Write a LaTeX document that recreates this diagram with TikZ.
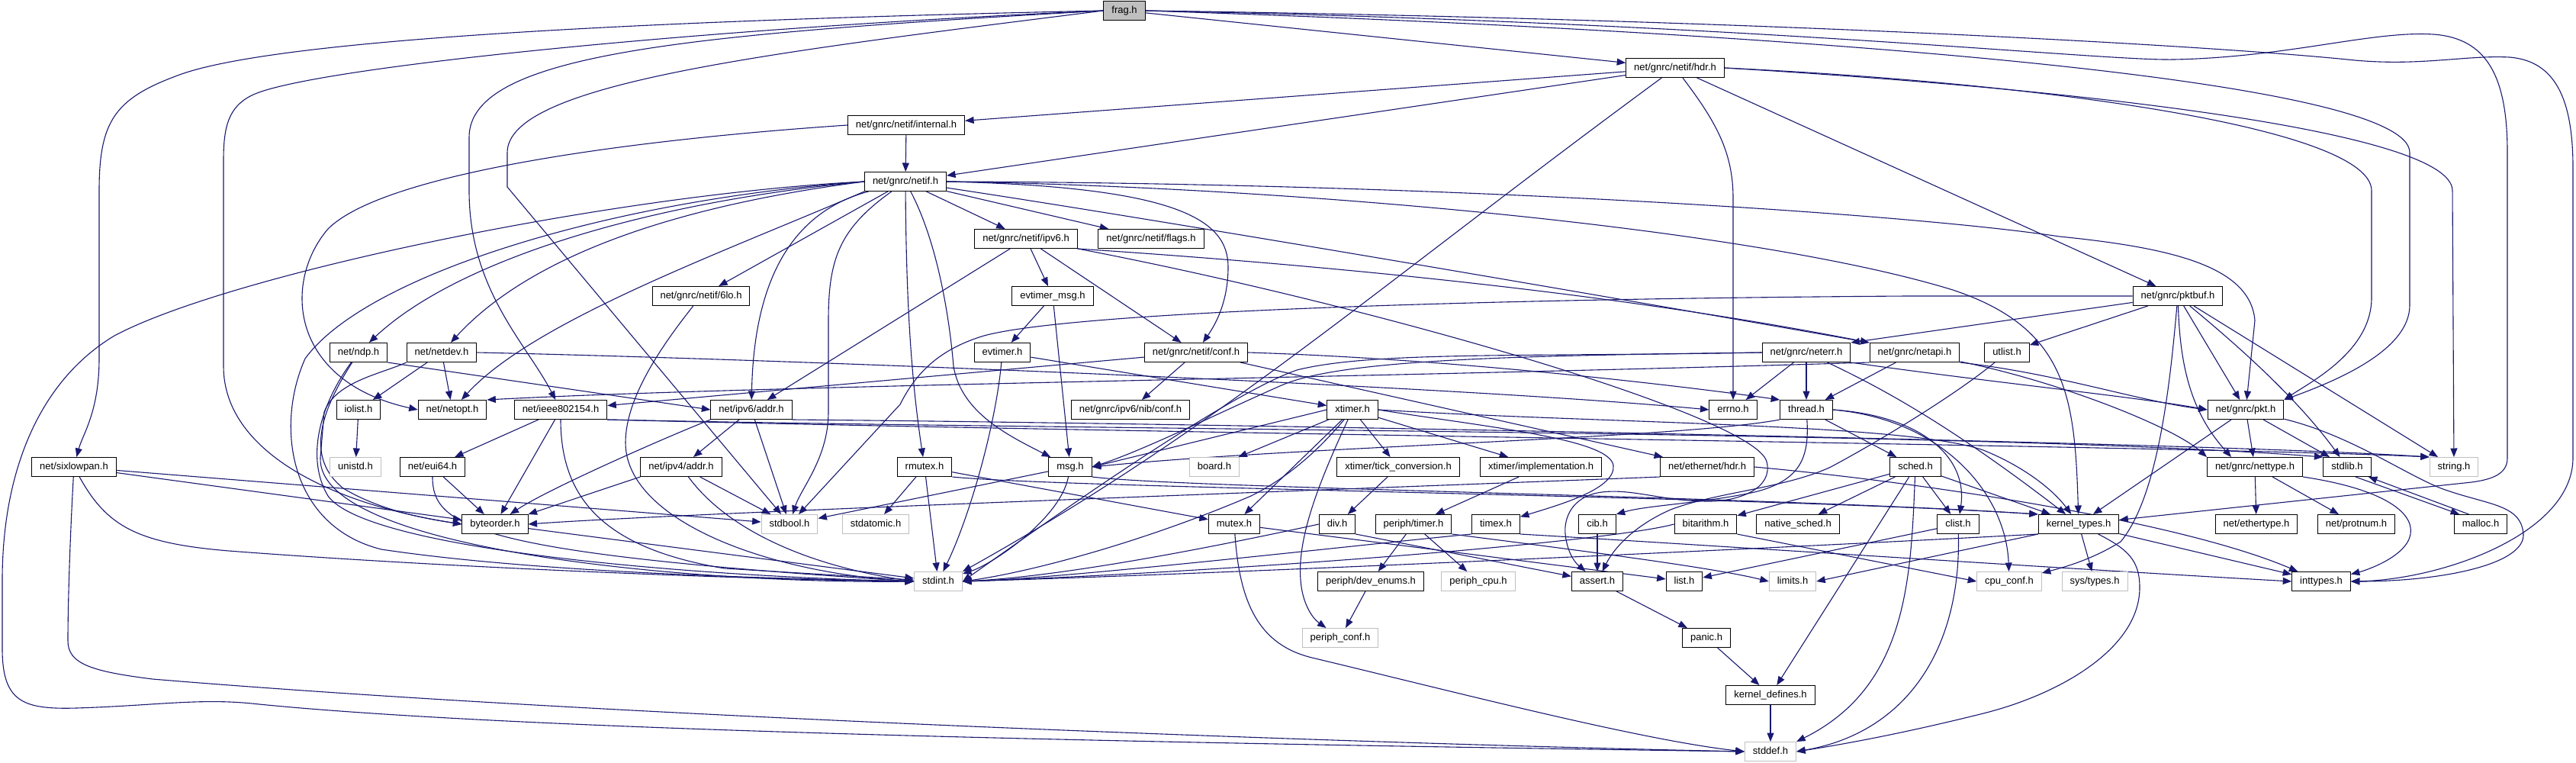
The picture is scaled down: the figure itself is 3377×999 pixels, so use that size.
\documentclass[tikz,border=0pt]{standalone}
\usepackage{fontspec}
\setmainfont{Liberation Sans}
\usetikzlibrary{arrows.meta,backgrounds}
\definecolor{edgeblue}{RGB}{25,25,112}
\definecolor{boxgray}{RGB}{191,191,191}

\begin{document}
\begin{tikzpicture}[x=1pt,y=-1pt,font=\fontsize{13}{15}\selectfont,
every node/.style={draw=black,line width=1pt,fill=white,inner xsep=10.5pt,inner ysep=0pt,
  minimum height=25pt,text height=9.5pt,text depth=2.5pt},
sysfile/.style={draw=boxgray},
root/.style={fill=boxgray},
inc/.style={draw=edgeblue,line width=1.1pt,-{Triangle[length=11.5pt,width=9pt]}}]
\useasboundingbox (0,0) rectangle (3377,999);

\node[root] (frag) at (1474,14) {frag.h};
\node (hdr) at (2196,89) {net/gnrc/netif/hdr.h};
\node (internal) at (1188,164) {net/gnrc/netif/internal.h};
\node (netif) at (1187,238) {net/gnrc/netif.h};
\node (ipvsix) at (1345,313) {net/gnrc/netif/ipv6.h};
\node (flags) at (1509,313) {net/gnrc/netif/flags.h};
\node (sixlo) at (919,388) {net/gnrc/netif/6lo.h};
\node (evmsg) at (1380,388) {evtimer\_msg.h};
\node (pktbuf) at (2855,388) {net/gnrc/pktbuf.h};
\node (ndp) at (470,462) {net/ndp.h};
\node (netdev) at (579,462) {net/netdev.h};
\node (evtimer) at (1314,462) {evtimer.h};
\node (netifconf) at (1568,462) {net/gnrc/netif/conf.h};
\node (neterr) at (2368,462) {net/gnrc/neterr.h};
\node (netapi) at (2510,462) {net/gnrc/netapi.h};
\node (utlist) at (2631,462) {utlist.h};
\node (iolist) at (470,537) {iolist.h};
\node (netopt) at (593,537) {net/netopt.h};
\node (ieee) at (735,537) {net/ieee802154.h};
\node (ipv6addr) at (985,537) {net/ipv6/addr.h};
\node (nibconf) at (1482,537) {net/gnrc/ipv6/nib/conf.h};
\node (xtimer) at (1773,537) {xtimer.h};
\node (errno) at (2272,537) {errno.h};
\node (thread) at (2368,537) {thread.h};
\node (pkt) at (2944,537) {net/gnrc/pkt.h};
\node (sixlowpan) at (97,612) {net/sixlowpan.h};
\node[sysfile] (unistd) at (466,612) {unistd.h};
\node (eui64) at (567,612) {net/eui64.h};
\node (ipv4addr) at (893,612) {net/ipv4/addr.h};
\node (rmutex) at (1212,612) {rmutex.h};
\node (msg) at (1403,612) {msg.h};
\node[sysfile] (board) at (1592,612) {board.h};
\node (tickconv) at (1833,612) {xtimer/tick\_conversion.h};
\node (impl) at (2020,612) {xtimer/implementation.h};
\node (ethhdr) at (2238,612) {net/ethernet/hdr.h};
\node (sched) at (2511,612) {sched.h};
\node (nettype) at (2956,612) {net/gnrc/nettype.h};
\node (stdlib) at (3077,612) {stdlib.h};
\node[sysfile] (string) at (3217,612) {string.h};
\node (byteorder) at (649,687) {byteorder.h};
\node[sysfile] (stdbool) at (1035,687) {stdbool.h};
\node[sysfile] (stdatomic) at (1148,687) {stdatomic.h};
\node (mutex) at (1618,687) {mutex.h};
\node (div) at (1753,687) {div.h};
\node (ptimer) at (1853,687) {periph/timer.h};
\node (timex) at (1961,687) {timex.h};
\node (cib) at (2094,687) {cib.h};
\node (bitarithm) at (2236,687) {bitarithm.h};
\node (nativesched) at (2357,687) {native\_sched.h};
\node (clist) at (2567,687) {clist.h};
\node (kerneltypes) at (2725,687) {kernel\_types.h};
\node (ethertype) at (2958,687) {net/ethertype.h};
\node (protnum) at (3089,687) {net/protnum.h};
\node (malloc) at (3252,687) {malloc.h};
\node[sysfile] (stdint) at (1230,762) {stdint.h};
\node (devenums) at (1797,762) {periph/dev\_enums.h};
\node[sysfile] (periphcpu) at (1938,762) {periph\_cpu.h};
\node (assert) at (2094,762) {assert.h};
\node (list) at (2208,762) {list.h};
\node[sysfile] (limits) at (2350,762) {limits.h};
\node[sysfile] (cpuconf) at (2634,762) {cpu\_conf.h};
\node[sysfile] (systypes) at (2746,762) {sys/types.h};
\node (inttypes) at (3043,762) {inttypes.h};
\node[sysfile] (periphconf) at (1757,836) {periph\_conf.h};
\node (panic) at (2237,836) {panic.h};
\node (kdefines) at (2321,911) {kernel\_defines.h};
\node[sysfile] (stddef) at (2321,985) {stddef.h};

\begin{scope}[on background layer]
\draw[inc] (frag.west) .. controls (700,30) and (330,60) .. (230,100) .. controls (150,130) and (130,160) .. (130,250) -- (130,470) .. controls (130,540) and (108,570) .. (sixlowpan);
\draw[inc] (frag.west) .. controls (900,38) and (400,90) .. (330,125) .. controls (300,140) and (293,165) .. (293,210) -- (293,480) .. controls (293,590) and (430,660) .. (byteorder.west);
\draw[inc] (frag.west) .. controls (900,45) and (615,70) .. (615,180) -- (615,250) .. controls (615,380) and (690,450) .. (ieee);
\draw[inc] (frag.west) .. controls (1000,70) and (665,110) .. (665,200) -- (665,245) -- (stdbool);
\draw[inc] (frag) -- (hdr);
\draw[inc] (frag.east) .. controls (2300,40) and (3159,100) .. (3159,200) -- (3159,400) .. controls (3159,460) and (3060,500) .. (pkt.north east);
\draw[inc] (frag.east) .. controls (2300,30) and (2750,80) .. (2850,78) .. controls (3000,75) and (3110,40) .. (3190,45) .. controls (3260,50) and (3287,100) .. (3287,200) -- (3287,600) .. controls (3287,620) and (3270,628) .. (3240,632) -- (kerneltypes);
\draw[inc] (frag.east) .. controls (2300,25) and (2900,60) .. (3077,78) .. controls (3170,88) and (3230,72) .. (3290,75) .. controls (3350,80) and (3373,130) .. (3373,220) -- (3373,600) .. controls (3373,700) and (3200,760) .. (inttypes.east);

\draw[inc] (hdr) -- (internal);
\draw[inc] (hdr) -- (netif);
\draw[inc] (hdr) .. controls (1800,380) and (1600,560) .. (stdint.north east);
\draw[inc] (hdr) .. controls (2250,160) and (2272,200) .. (2272,260) -- (errno);
\draw[inc] (hdr) -- (pktbuf);
\draw[inc] (hdr.east) .. controls (2700,110) and (3109,170) .. (3109,250) -- (3109,390) .. controls (3109,460) and (3030,500) .. (pkt.north east);
\draw[inc] (hdr.east) .. controls (2700,115) and (3215,170) .. (3215,250) -- (string);

\draw[inc] (internal) -- (netif);
\draw[inc] (internal.west) .. controls (800,185) and (500,230) .. (430,300) .. controls (370,370) and (380,500) .. (netopt.west);

\draw[inc] (netif) -- (sixlo);
\draw[inc] (netif) -- (ipvsix);
\draw[inc] (netif) -- (flags);
\draw[inc] (netif.east) .. controls (1550,245) and (1610,290) .. (1610,350) .. controls (1610,400) and (1590,430) .. (netifconf);
\draw[inc] (netif.west) .. controls (850,265) and (600,340) .. (ndp);
\draw[inc] (netif.west) .. controls (900,268) and (700,330) .. (netdev);
\draw[inc] (netif.west) .. controls (800,255) and (300,360) .. (150,440) .. controls (50,500) and (3,620) .. (3,760) -- (3,850) .. controls (3,920) and (30,930) .. (100,928) .. controls (200,925) and (260,915) .. (330,922) .. controls (700,960) and (1600,975) .. (stddef.west);
\draw[inc] (netif.west) .. controls (800,262) and (480,360) .. (400,470) .. controls (360,560) and (380,690) .. (500,720) .. controls (700,750) and (1000,758) .. (stdint.west);
\draw[inc] (netif) .. controls (1100,300) and (1086,340) .. (1086,420) -- (1086,540) .. controls (1086,600) and (1050,640) .. (stdbool);
\draw[inc] (netif.east) .. controls (1700,245) and (2300,300) .. (2560,380) .. controls (2710,430) and (2720,520) .. (kerneltypes);
\draw[inc] (netif.east) .. controls (1900,240) and (2500,280) .. (2700,310) .. controls (2850,325) and (2950,350) .. (2956,420) -- (pkt);
\draw[inc] (netif) .. controls (1230,320) and (1245,420) .. (1250,480) .. controls (1260,540) and (1320,570) .. (msg);
\draw[inc] (netif) .. controls (1030,280) and (988,380) .. (ipv6addr);
\draw[inc] (netif) .. controls (1500,285) and (2000,370) .. (netapi.north west);
\draw[inc] (netif) .. controls (1188,400) and (1195,500) .. (rmutex);
\draw[inc] (netif.south west) .. controls (950,330) and (700,420) .. (netopt);

\draw[inc] (ipvsix) -- (evmsg);
\draw[inc] (ipvsix) -- (netifconf);
\draw[inc] (ipvsix) -- (ipv6addr);
\draw[inc] (ipvsix.south east) .. controls (1700,345) and (2100,380) .. (netapi.north west);
\draw[inc] (ipvsix) .. controls (1800,400) and (2300,545) .. (2316,605) .. controls (2325,640) and (2280,657) .. (2240,657) .. controls (2180,657) and (2140,640) .. (2100,645) .. controls (2060,650) and (2050,680) .. (2052,700) .. controls (2054,720) and (2062,735) .. (assert);

\draw[inc] (evmsg) -- (evtimer);
\draw[inc] (evmsg) -- (msg);
\draw[inc] (evtimer) .. controls (1305,560) and (1270,680) .. (stdint);
\draw[inc] (evtimer) -- (xtimer);

\draw[inc] (netifconf) -- (nibconf);
\draw[inc] (netifconf) -- (ieee);
\draw[inc] (netifconf.east) .. controls (1900,470) and (2200,505) .. (thread.north west);
\draw[inc] (netifconf) -- (ethhdr);

\draw[inc] (ndp) .. controls (420,530) and (400,600) .. (430,650) .. controls (480,720) and (900,755) .. (stdint.west);
\draw[inc] (ndp) .. controls (420,540) and (400,600) .. (450,640) .. controls (500,670) and (560,680) .. (byteorder.west);
\draw[inc] (ndp.south east) -- (ipv6addr.west);

\draw[inc] (netdev) -- (iolist);
\draw[inc] (netdev) -- (netopt);
\draw[inc] (netdev.east) .. controls (1000,470) and (1900,505) .. (errno.west);
\draw[inc] (netdev.south west) .. controls (500,490) and (440,500) .. (425,540) -- (420,600) .. controls (415,720) and (900,765) .. (stdint.west);
\draw[inc] (iolist) -- (unistd);

\draw[inc] (ieee) -- (eui64);
\draw[inc] (ieee) -- (byteorder);
\draw[inc] (ieee) .. controls (735,660) and (800,720) .. (950,745) -- (stdint);
\draw[inc] (ieee.south east) .. controls (1500,565) and (2600,565) .. (stdlib.north west);
\draw[inc] (ieee.south east) .. controls (1500,568) and (2900,585) .. (string.north west);
\draw[inc] (eui64) -- (byteorder);
\draw[inc] (eui64) .. controls (567,690) and (620,725) .. (stdint.west);

\draw[inc] (sixlowpan) -- (byteorder);
\draw[inc] (sixlowpan) -- (stdbool);
\draw[inc] (sixlowpan) .. controls (140,690) and (180,712) .. (300,722) .. controls (600,745) and (1000,760) .. (stdint.west);
\draw[inc] (sixlowpan) .. controls (92,700) and (89,790) .. (89,840) .. controls (89,870) and (120,880) .. (200,890) .. controls (800,940) and (1800,975) .. (stddef.west);
\draw[inc] (byteorder) -- (stdint);
\draw[inc] (sixlo) .. controls (870,450) and (820,520) .. (820,580) .. controls (820,680) and (1000,750) .. (stdint.west);

\draw[inc] (ipv6addr) -- (ipv4addr);
\draw[inc] (ipv6addr) -- (stdbool);
\draw[inc] (ipv6addr.south west) .. controls (880,570) and (720,640) .. (byteorder);
\draw[inc] (ipv6addr.south east) .. controls (1600,555) and (2900,580) .. (string.north west);
\draw[inc] (ipv4addr) -- (stdbool);
\draw[inc] (ipv4addr) .. controls (950,690) and (1050,740) .. (stdint.west);
\draw[inc] (ipv4addr.south west) -- (byteorder.north east);

\draw[inc] (rmutex) -- (stdatomic);
\draw[inc] (rmutex) -- (stdint);
\draw[inc] (rmutex) -- (mutex);
\draw[inc] (rmutex.south east) .. controls (1400,640) and (2300,650) .. (kerneltypes.north west);
\draw[inc] (msg) .. controls (1390,680) and (1300,740) .. (stdint);
\draw[inc] (msg) -- (stdbool);
\draw[inc] (msg.south east) .. controls (1550,640) and (2300,650) .. (kerneltypes.north west);
\draw[inc] (mutex) .. controls (1625,790) and (1650,845) .. (1720,862) .. controls (1900,905) and (2150,970) .. (stddef.west);
\draw[inc] (mutex) -- (list);

\draw[inc] (xtimer) .. controls (1720,600) and (1680,630) .. (1640,650) .. controls (1500,710) and (1350,750) .. (stdint.east);
\draw[inc] (xtimer.west) -- (msg.east);
\draw[inc] (xtimer) -- (mutex);
\draw[inc] (xtimer) .. controls (1735,620) and (1700,700) .. (1705,760) .. controls (1707,790) and (1720,810) .. (periphconf);
\draw[inc] (xtimer) -- (tickconv);
\draw[inc] (xtimer) -- (impl);
\draw[inc] (xtimer.east) .. controls (1950,560) and (2110,575) .. (2115,610) .. controls (2118,640) and (2050,660) .. (timex);
\draw[inc] (xtimer.east) .. controls (2100,555) and (2500,555) .. (2600,590) .. controls (2650,610) and (2690,640) .. (kerneltypes);
\draw[inc] (xtimer) -- (board);

\draw[inc] (tickconv) -- (div);
\draw[inc] (impl) -- (ptimer);
\draw[inc] (div.west) .. controls (1600,715) and (1400,755) .. (stdint.east);
\draw[inc] (div.south east) -- (assert);
\draw[inc] (ptimer) -- (devenums);
\draw[inc] (ptimer) -- (periphcpu);
\draw[inc] (ptimer.south east) .. controls (2100,725) and (2250,745) .. (limits.west);
\draw[inc] (devenums) -- (periphconf);
\draw[inc] (timex.south west) .. controls (1800,712) and (1400,758) .. (stdint.east);
\draw[inc] (timex.south east) .. controls (2200,712) and (2700,745) .. (inttypes.west);
\draw[inc] (cib) -- (assert);
\draw[inc] (assert) -- (panic);
\draw[inc] (panic) -- (kdefines);
\draw[inc] (kdefines) -- (stddef);
\draw[inc] (bitarithm.west) .. controls (2100,712) and (1600,750) .. (stdint.east);
\draw[inc] (bitarithm.south east) -- (cpuconf.west);
\draw[inc] (ethhdr.south west) .. controls (1800,640) and (900,672) .. (byteorder.east);
\draw[inc] (ethhdr.east) .. controls (2500,630) and (2850,680) .. (inttypes);

\draw[inc] (thread.south west) .. controls (2200,575) and (1700,585) .. (msg.east);
\draw[inc] (thread) .. controls (2372,600) and (2360,630) .. (2300,645) .. controls (2230,660) and (2160,662) .. (cib.north east);
\draw[inc] (thread) -- (sched);
\draw[inc] (thread.east) .. controls (2520,545) and (2580,600) .. (clist);
\draw[inc] (thread.east) .. controls (2550,550) and (2630,650) .. (cpuconf);
\draw[inc] (sched) -- (bitarithm);
\draw[inc] (sched) -- (nativesched);
\draw[inc] (sched) -- (kdefines);
\draw[inc] (sched) .. controls (2505,760) and (2500,900) .. (stddef.north east);
\draw[inc] (sched) -- (clist);
\draw[inc] (sched) -- (kerneltypes);
\draw[inc] (clist) -- (list);
\draw[inc] (clist) .. controls (2571,850) and (2500,960) .. (stddef.east);

\draw[inc] (kerneltypes.south west) .. controls (2300,720) and (1600,752) .. (stdint.east);
\draw[inc] (kerneltypes.south west) -- (limits.east);
\draw[inc] (kerneltypes) -- (systypes);
\draw[inc] (kerneltypes) -- (inttypes);
\draw[inc] (kerneltypes) .. controls (2790,720) and (2805,735) .. (2805,770) .. controls (2805,850) and (2700,910) .. (2600,935) .. controls (2500,960) and (2420,975) .. (stddef.east);

\draw[inc] (pktbuf.west) -- (2500,388) .. controls (1900,392) and (1400,410) .. (1290,440) .. controls (1230,458) and (1200,490) .. (1180,530) -- (stdbool);
\draw[inc] (pktbuf) -- (neterr.north east);
\draw[inc] (pktbuf) -- (utlist);
\draw[inc] (pktbuf) .. controls (2845,500) and (2830,650) .. (2780,710) .. controls (2740,735) and (2700,745) .. (cpuconf);
\draw[inc] (pktbuf) .. controls (2858,480) and (2872,540) .. ([xshift=-31pt]nettype.north);
\draw[inc] (pktbuf) -- (pkt);
\draw[inc] (pktbuf) .. controls (2930,450) and (3010,520) .. (stdlib);
\draw[inc] (pktbuf) -- (string);
\draw[inc] (utlist) .. controls (2560,520) and (2460,580) .. (2400,612) .. controls (2340,640) and (2250,645) .. (2190,668) .. controls (2140,690) and (2115,720) .. (assert);

\draw[inc] (neterr) -- (errno);
\draw[inc] (neterr) -- (thread);
\draw[inc] (neterr.west) .. controls (2000,466) and (1760,470) .. (1680,505) .. controls (1600,540) and (1500,590) .. (msg.east);
\draw[inc] (neterr.west) .. controls (2000,468) and (1800,460) .. (1700,485) .. controls (1600,520) and (1350,700) .. (stdint.east);
\draw[inc] (neterr) .. controls (2470,510) and (2560,560) .. (kerneltypes);
\draw[inc] (neterr.south east) .. controls (2600,500) and (2800,520) .. (pkt.west);
\draw[inc] (netapi) -- (thread);
\draw[inc] (netapi.south west) .. controls (1800,495) and (1000,505) .. (netopt.north east);
\draw[inc] (netapi) .. controls (2700,500) and (2850,560) .. (nettype.north west);
\draw[inc] (netapi.south east) .. controls (2700,490) and (2800,525) .. (pkt.west);

\draw[inc] (pkt) -- (kerneltypes);
\draw[inc] (pkt) -- (nettype);
\draw[inc] (pkt) -- (stdlib);
\draw[inc] (pkt) .. controls (3080,570) and (3150,620) .. (3200,640) .. controls (3260,662) and (3305,660) .. (3308,700) .. controls (3310,740) and (3200,762) .. (inttypes.east);
\draw[inc] (nettype) -- (ethertype);
\draw[inc] (nettype) -- (protnum);
\draw[inc] (nettype.south east) .. controls (3120,640) and (3165,670) .. (3160,700) .. controls (3155,730) and (3100,748) .. (inttypes);
\draw[inc] (stdlib.-50) -- (malloc.155);
\draw[inc] (malloc.140) -- (stdlib.-25);
\end{scope}
\end{tikzpicture}
\end{document}
